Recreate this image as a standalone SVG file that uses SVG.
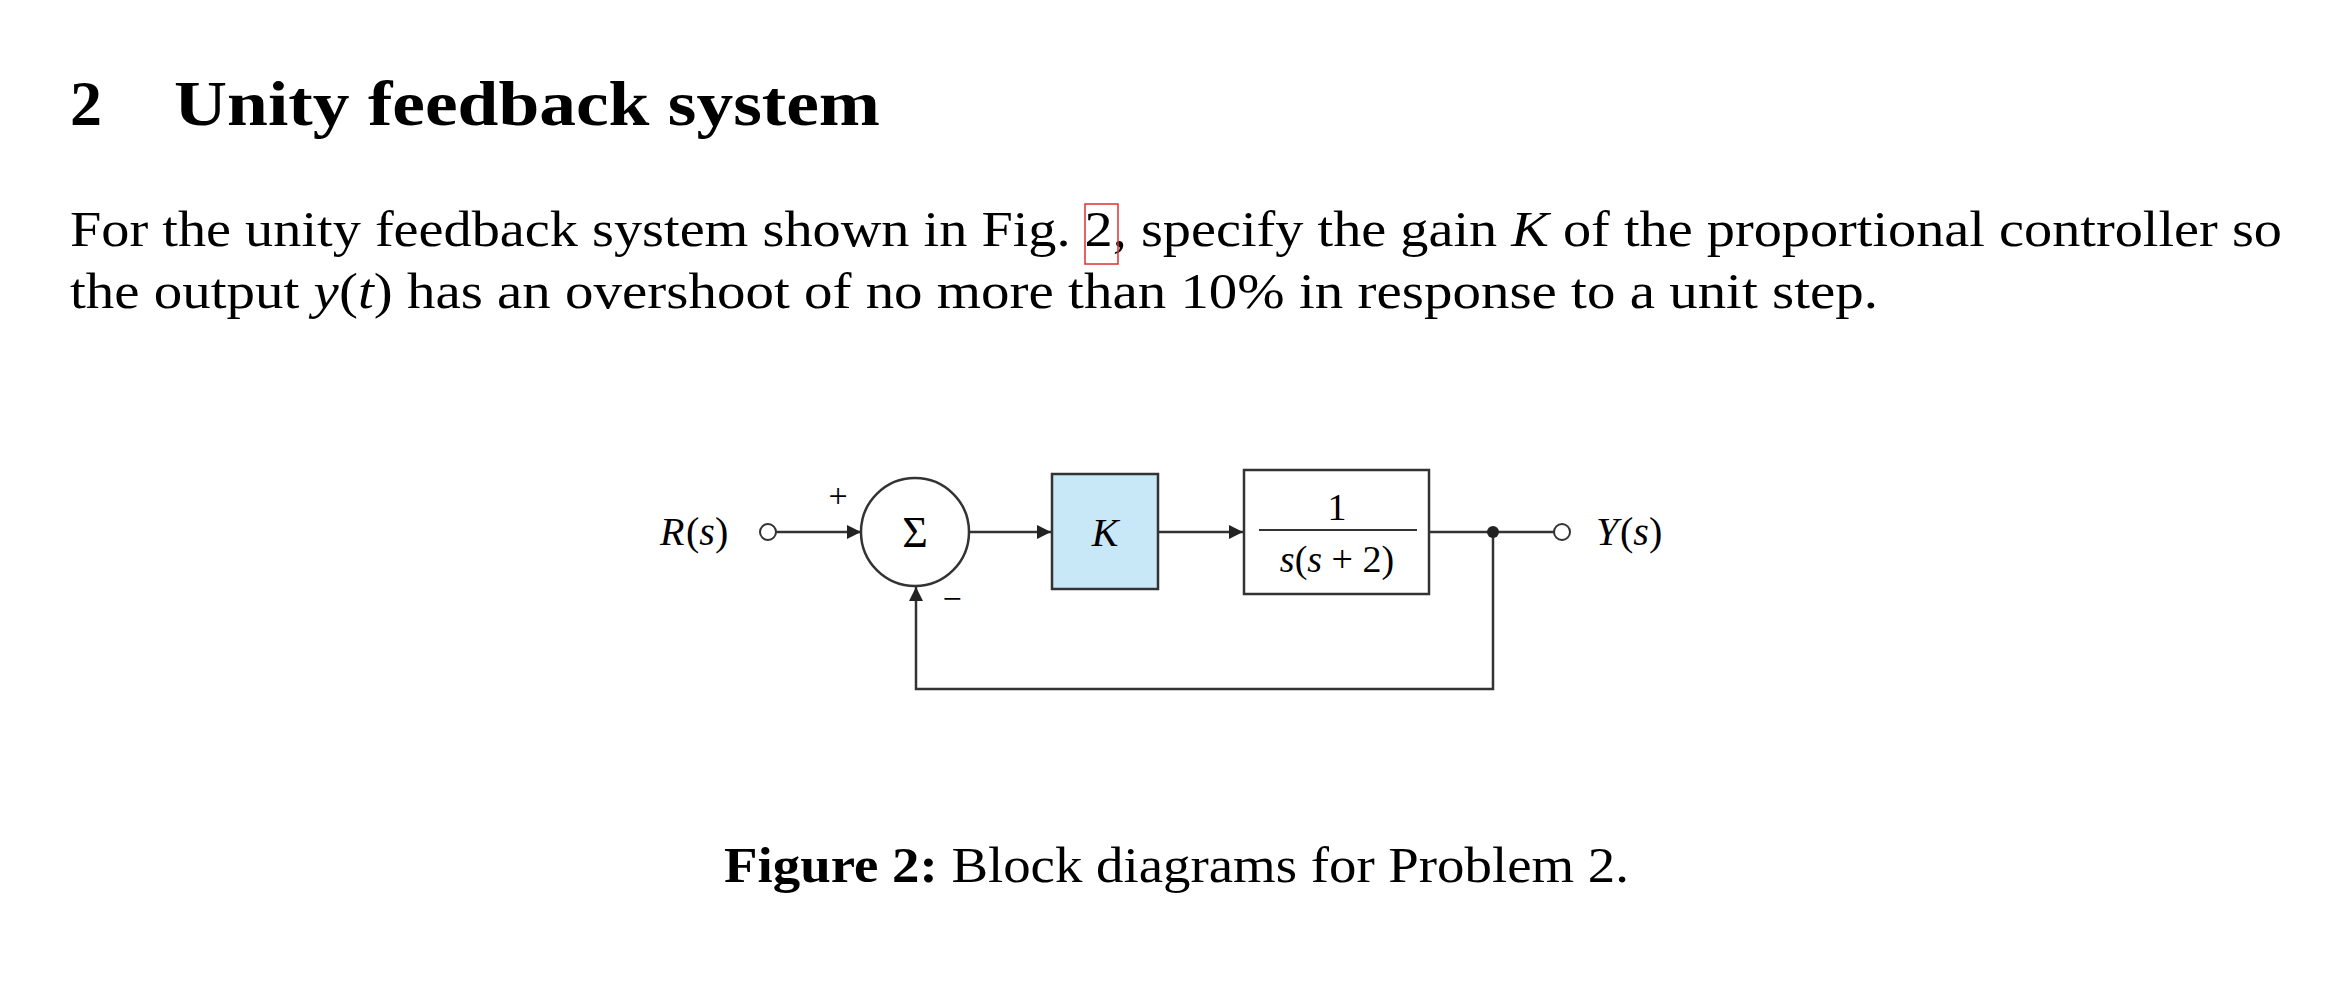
<svg xmlns="http://www.w3.org/2000/svg" width="2336" height="1000" viewBox="0 0 2336 1000">
<style>
.t{font-family:"Liberation Serif","Times New Roman",serif;fill:#000}
.i{font-style:italic}
.ln{stroke:#333;stroke-width:2.5;fill:none}
</style>
<defs>
<marker id="ar" viewBox="0 0 10 10" refX="10" refY="5" markerWidth="14" markerHeight="14" markerUnits="userSpaceOnUse" orient="auto"><path d="M0,0 L10,5 L0,10 z" fill="#222"/></marker>
</defs>
<rect width="2336" height="1000" fill="#fff"/>
<g id="header">
<text class="t" x="70" y="125" font-size="64" font-weight="bold">2</text>
<text class="t" x="174" y="125" font-size="64" font-weight="bold" textLength="706" lengthAdjust="spacingAndGlyphs">Unity feedback system</text>
<text class="t" x="70" y="246" font-size="50" textLength="2212" lengthAdjust="spacingAndGlyphs">For the unity feedback system shown in Fig. 2, specify the gain <tspan class="i">K</tspan> of the proportional controller so</text>
<text class="t" x="70" y="308" font-size="50" textLength="1808" lengthAdjust="spacingAndGlyphs">the output <tspan class="i">y</tspan>(<tspan class="i">t</tspan>) has an overshoot of no more than 10% in response to a unit step.</text>
<rect x="1085" y="204" width="33" height="60" fill="none" stroke="#e03030" stroke-width="1.5"/>
</g>
<g id="connectors">
<line class="ln" x1="776" y1="532" x2="861" y2="532" marker-end="url(#ar)"/>
<line class="ln" x1="969" y1="532" x2="1051" y2="532" marker-end="url(#ar)"/>
<line class="ln" x1="1158" y1="532" x2="1243" y2="532" marker-end="url(#ar)"/>
<line class="ln" x1="1429" y1="532" x2="1554" y2="532"/>
<polyline class="ln" points="1493,532 1493,689 916,689 916,587" marker-end="url(#ar)"/>
<circle cx="1493" cy="532" r="6" fill="#222"/>
</g>
<g id="input">
<text class="t i" x="660" y="545" font-size="40">R</text><text class="t" x="686" y="545" font-size="40">(<tspan class="i">s</tspan>)</text>
<circle cx="768" cy="532" r="8" fill="#fff" stroke="#333" stroke-width="2"/>
</g>
<g id="sum">
<circle cx="915" cy="532" r="54" fill="#fff" stroke="#333" stroke-width="2.5"/>
<text class="t" x="915" y="547" font-size="44" text-anchor="middle">Σ</text>
<text class="t" x="838" y="507" font-size="34" text-anchor="middle" fill="#555">+</text>
<text class="t" x="952" y="610" font-size="34" text-anchor="middle">−</text>
</g>
<g id="gainK">
<rect x="1052" y="474" width="106" height="115" fill="#c8e8f8" stroke="#333" stroke-width="2.5"/>
<text class="t i" x="1105" y="546" font-size="40" text-anchor="middle">K</text>
</g>
<g id="plant">
<rect x="1244" y="470" width="185" height="124" fill="#fff" stroke="#333" stroke-width="2.5"/>
<text class="t" x="1337" y="520" font-size="38" text-anchor="middle">1</text>
<line x1="1259" y1="530" x2="1417" y2="530" stroke="#333" stroke-width="2"/>
<text class="t" x="1337" y="572" font-size="38" text-anchor="middle"><tspan class="i">s</tspan>(<tspan class="i">s</tspan> + 2)</text>
</g>
<g id="output">
<circle cx="1562" cy="532" r="8" fill="#fff" stroke="#333" stroke-width="2"/>
<text class="t i" x="1596" y="545" font-size="40">Y</text><text class="t" x="1620" y="545" font-size="40">(<tspan class="i">s</tspan>)</text>
</g>
<g id="caption">
<text class="t" x="724" y="882" font-size="50" textLength="905" lengthAdjust="spacingAndGlyphs"><tspan font-weight="bold">Figure 2:</tspan> Block diagrams for Problem 2.</text>
</g>
</svg>
